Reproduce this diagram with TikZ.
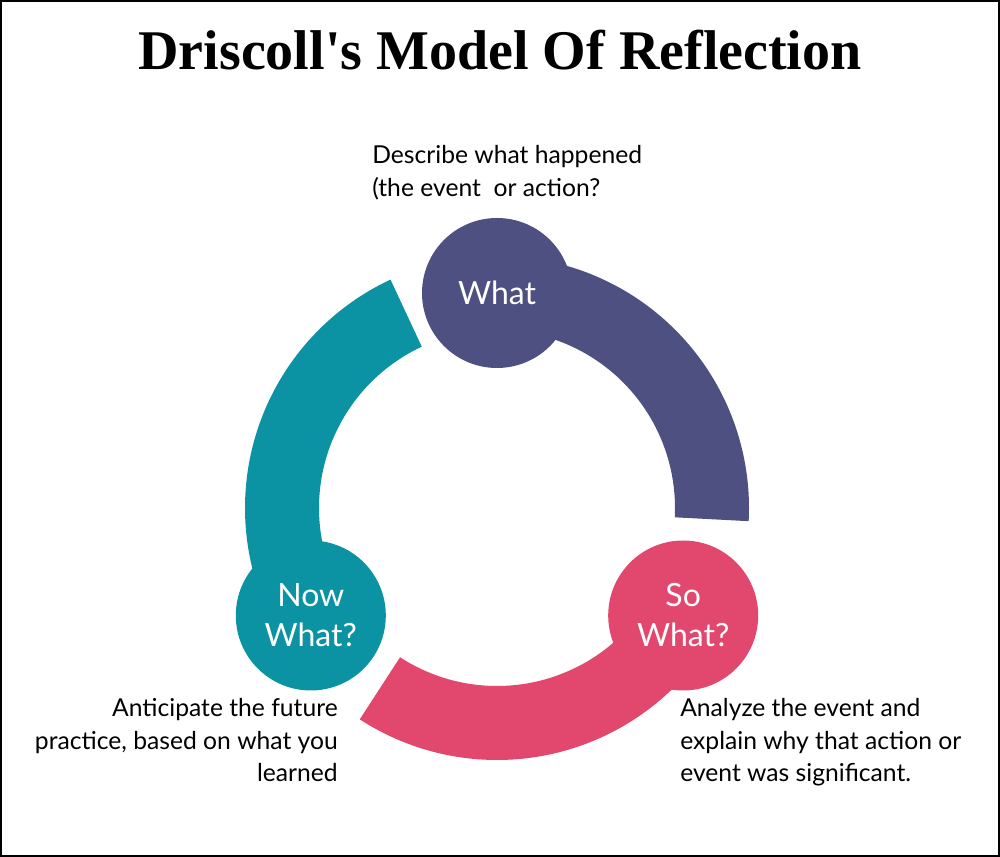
\documentclass[tikz,border=0pt]{standalone}
\usepackage{fontspec}
\setmainfont{Lato}
\newfontfamily\titlefont{Liberation Serif}
\usetikzlibrary{calc}
\definecolor{cpur}{HTML}{4E5082}
\definecolor{cteal}{HTML}{0C93A3}
\definecolor{cpink}{HTML}{E2476E}
\tikzset{
  circlbl/.style={circle,minimum size=150*0.75pt,inner sep=0pt,text=white,font=\fontsize{24}{30}\selectfont,align=center},
  desc/.style={font=\fontsize{18.5}{24.5}\selectfont,inner sep=0pt}
}
\begin{document}
\begin{tikzpicture}[x=0.75pt,y=0.75pt]
\useasboundingbox (0,0) rectangle (1000,857);
\draw[line width=1.5pt] (1,1) rectangle (999,856);
\coordinate (c) at (497,349);
\def\ro{252}\def\ri{178}
\newcommand{\seg}[3]{\fill[#1] ($(c)+(#2:\ro)$) arc[start angle=#2,end angle=#3,radius=\ro] -- ($(c)+(#3:\ri)$) arc[start angle=#3,end angle=#2,radius=\ri] -- cycle;}
\seg{cpur}{90}{-3}
\seg{cpink}{-30}{-123}
\seg{cteal}{210}{115}
\node[circlbl,fill=cpur] (what) at ($(c)+(90:215)$) {What};
\node[circlbl,fill=cpink] (so) at ($(c)+(-30:215)$) {So\\What?};
\node[circlbl,fill=cteal] (now) at ($(c)+(210:215)$) {Now\\What?};
\node[font=\titlefont\bfseries\fontsize{42}{44}\selectfont] (title) at (500,807) {Driscoll's Model Of Reflection};
\node[desc,anchor=north west,align=left] (d1) at (372,712) {Describe what happened\\(the event\ \ or action?};
\node[desc,anchor=north east,align=right] (d2) at (338,159) {Anticipate the future\\practice, based on what you\\learned};
\node[desc,anchor=north west,align=left] (d3) at (680,159) {Analyze the event and\\explain why that action or\\event was significant.};
\end{tikzpicture}
\end{document}
